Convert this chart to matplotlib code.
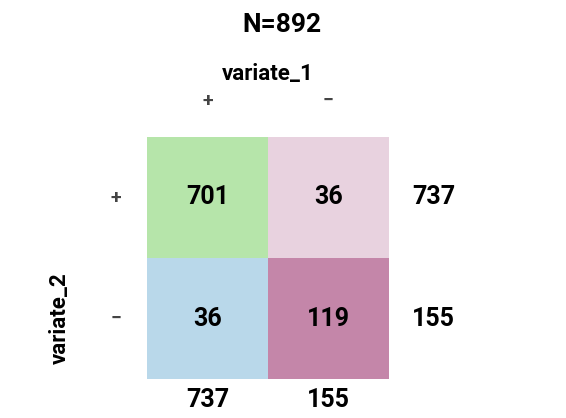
import matplotlib
matplotlib.use("Agg")
import matplotlib.pyplot as plt
from matplotlib.colors import ListedColormap
import numpy as np

title = "N=892"
x_name = "variate_1"
y_name = "variate_2"
signs = ["+", "\u2212"]
counts = [[701, 36], [36, 119]]
row_totals = [737, 155]
col_totals = [737, 155]
cell_colors = ["#b6e5aa", "#e8d2df", "#b9d8ea", "#c486a9"]

plt.rcParams["font.family"] = ["Roboto", "DejaVu Sans"]

W, H = 566, 418
fig = plt.figure(figsize=(W / 100, H / 100), dpi=100)
ax = fig.add_axes([147 / W, 39 / H, 242 / W, 242 / H])
idx = np.arange(4).reshape(2, 2)
ax.imshow(idx, cmap=ListedColormap(cell_colors), aspect="auto",
          extent=(0, 2, 2, 0), interpolation="nearest")
ax.set_xlim(0, 2)
ax.set_ylim(2, 0)
ax.axis("off")

big = dict(fontsize=18, fontweight="bold", ha="center", va="center", clip_on=False)
sign = dict(fontsize=14, fontweight="bold", color="#444444", ha="center", va="center", clip_on=False)
for i in range(2):
    for j in range(2):
        ax.text(j + 0.5, i + 0.5, str(counts[i][j]), **big)
    ax.text(2.37, i + 0.5, str(row_totals[i]), **big)
    ax.text(i + 0.5, 2.17, str(col_totals[i]), **big)
    ax.text(i + 0.5, -0.3, signs[i], **sign)
    ax.text(-0.26, i + 0.5, signs[i], **sign)

ax.text(1.0, -0.52, x_name, fontsize=16, fontweight="bold", ha="center", va="center", clip_on=False)
ax.text(-0.72, 1.5, y_name, fontsize=16, fontweight="bold", ha="center", va="center",
        rotation=90, clip_on=False)
fig.text(282 / W, 1 - 25 / H, title, fontsize=19, fontweight="bold", ha="center", va="center")

fig.savefig("out.png", dpi=100)
